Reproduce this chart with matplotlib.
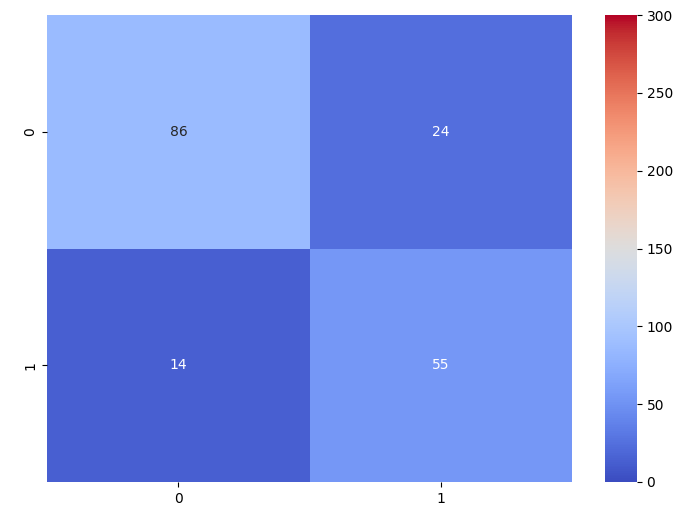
import matplotlib
matplotlib.use("Agg")
import matplotlib.pyplot as plt
import seaborn as sns
import numpy as np

# confusion matrix values
labels = ["0", "1"]
cm = np.array([[86, 24],
               [14, 55]])

fig = plt.figure(figsize=(6.93, 5.21), dpi=100)
ax = fig.add_axes([0.068, 0.075, 0.758, 0.896])
cax = fig.add_axes([0.873, 0.075, 0.046, 0.896])

sns.heatmap(cm, annot=True, fmt="d", cmap="coolwarm", vmin=0, vmax=300,
            xticklabels=labels, yticklabels=labels, ax=ax, cbar_ax=cax)

fig.savefig("out.png", dpi=100)
